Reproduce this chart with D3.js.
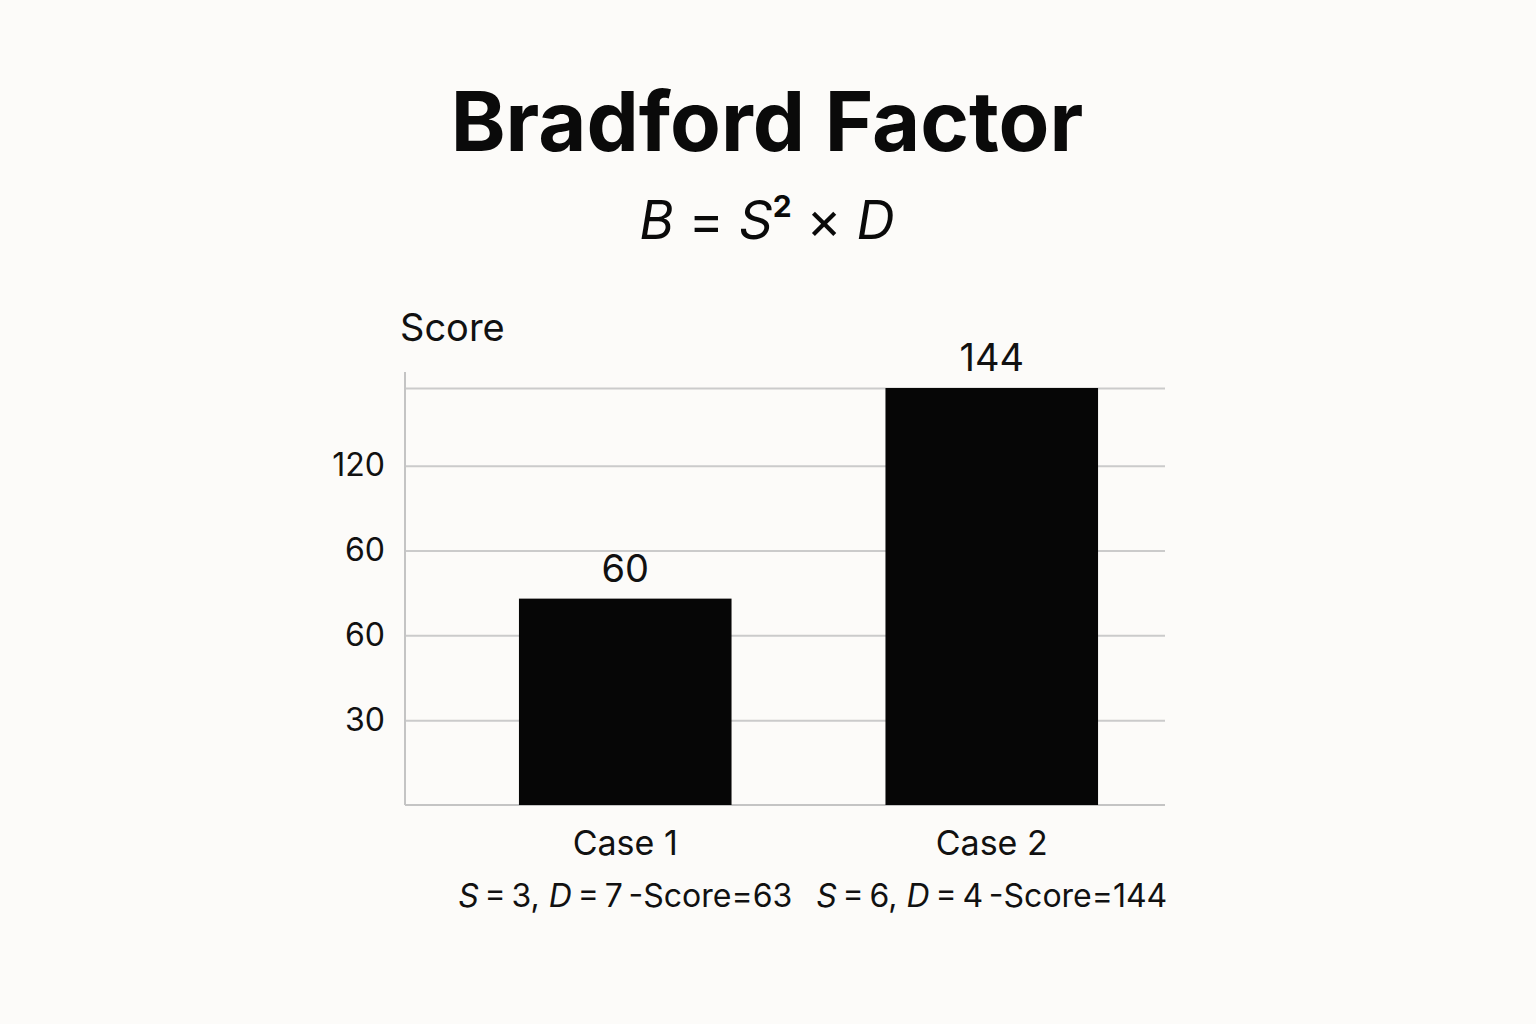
<!DOCTYPE html>
<html>
<head>
<meta charset="utf-8">
<script src="https://cdn.jsdelivr.net/npm/d3@7"></script>
<style>
  body { margin: 0; background: #fcfbf9; }
  svg { display: block; font-family: Inter, "Noto Sans", sans-serif; }
</style>
</head>
<body>
<svg id="chart"></svg>
<script>
var w = 1536;
var h = 1024;

// data
let categories = ["Case 1", "Case 2"];
let barValues = [73, 147.5];
let valueLabels = ["60", "144"];
let tickValues = [30, 60, 90, 120];
let tickLabels = ["30", "60", "60", "120"];
let topGrid = 147.5;
let sValues = [3, 6];
let dValues = [7, 4];
let scoreValues = [63, 144];

var svg = d3.select("#chart")
    .attr("width", w)
    .attr("height", h);

svg.append("rect").attr("width", w).attr("height", h).attr("fill", "#fcfbf9");

var x = d3.scaleBand()
    .domain(categories)
    .range([409, 1208])
    .paddingInner(0.42)
    .paddingOuter(0.3);

var y = d3.scaleLinear()
    .domain([0, topGrid])
    .range([805, 388]);

//title + formula
svg.append("text")
    .attr("x", 767).attr("y", 151)
    .attr("text-anchor", "middle")
    .attr("font-size", 83).attr("font-weight", 700)
    .attr("fill", "#0a0a0a")
    .text("Bradford Factor");

var f = svg.append("text")
    .attr("x", 767).attr("y", 239)
    .attr("text-anchor", "middle")
    .attr("font-size", 53)
    .attr("fill", "#0a0a0a");
f.append("tspan").attr("font-style", "italic").text("B");
f.append("tspan").text(" = ");
f.append("tspan").attr("font-style", "italic").text("S");
f.append("tspan").attr("font-size", 30).attr("font-weight", 700).attr("dy", -22).text("2");
f.append("tspan").attr("dy", 22).text(" \u00d7 ");
f.append("tspan").attr("font-style", "italic").text("D");

//grid lines
var grid = svg.append("g").attr("transform", "translate(405,0)")
    .call(d3.axisRight(y).tickValues(tickValues.concat([topGrid])).tickSize(760).tickFormat(""));
grid.select(".domain").remove();
grid.selectAll("line").attr("stroke", "#cbcbcb").attr("stroke-width", 2);

//tick labels
var yAxis = svg.append("g").attr("transform", "translate(405,0)")
    .call(d3.axisLeft(y).tickValues(tickValues).tickSize(0).tickPadding(20)
        .tickFormat((d, i) => tickLabels[i]));
yAxis.select(".domain").remove();
yAxis.selectAll("text")
    .attr("font-size", 32)
    .attr("font-family", "Inter, sans-serif")
    .attr("fill", "#111");

//axis lines
svg.append("line").attr("x1", 405).attr("x2", 405).attr("y1", 372).attr("y2", y(0))
    .attr("stroke", "#c4c4c4").attr("stroke-width", 2);
svg.append("line").attr("x1", 405).attr("x2", 1165).attr("y1", y(0)).attr("y2", y(0))
    .attr("stroke", "#c4c4c4").attr("stroke-width", 2);

svg.append("text")
    .attr("x", 400).attr("y", 341)
    .attr("font-size", 38)
    .attr("fill", "#111")
    .text("Score");

//bars
svg.selectAll(".bar")
    .data(categories)
    .enter()
    .append("rect")
    .attr("class", "bar")
    .attr("x", d => x(d))
    .attr("width", x.bandwidth())
    .attr("y", (d, i) => y(barValues[i]))
    .attr("height", (d, i) => y(0) - y(barValues[i]))
    .attr("fill", "#060606");

svg.selectAll(".vlabel")
    .data(categories)
    .enter()
    .append("text")
    .attr("class", "vlabel")
    .attr("x", d => x(d) + x.bandwidth() / 2)
    .attr("y", (d, i) => y(barValues[i]) - 17)
    .attr("text-anchor", "middle")
    .attr("font-size", 38)
    .attr("fill", "#111")
    .text((d, i) => valueLabels[i]);

//category labels
svg.selectAll(".clabel")
    .data(categories)
    .enter()
    .append("text")
    .attr("class", "clabel")
    .attr("x", d => x(d) + x.bandwidth() / 2)
    .attr("y", 855)
    .attr("text-anchor", "middle")
    .attr("font-size", 34)
    .attr("fill", "#111")
    .text(d => d);

var sub = svg.selectAll(".sub")
    .data(categories)
    .enter()
    .append("text")
    .attr("class", "sub")
    .attr("x", d => x(d) + x.bandwidth() / 2)
    .attr("y", 907)
    .attr("text-anchor", "middle")
    .attr("font-size", 32)
    .attr("fill", "#111");
sub.append("tspan").attr("font-style", "italic").text("S");
sub.append("tspan").text((d, i) => "\u2009=\u2009" + sValues[i] + ", ");
sub.append("tspan").attr("font-style", "italic").text("D");
sub.append("tspan").text((d, i) => "\u2009=\u2009" + dValues[i] + "\u2009-Score=" + scoreValues[i]);
</script>
</body>
</html>
